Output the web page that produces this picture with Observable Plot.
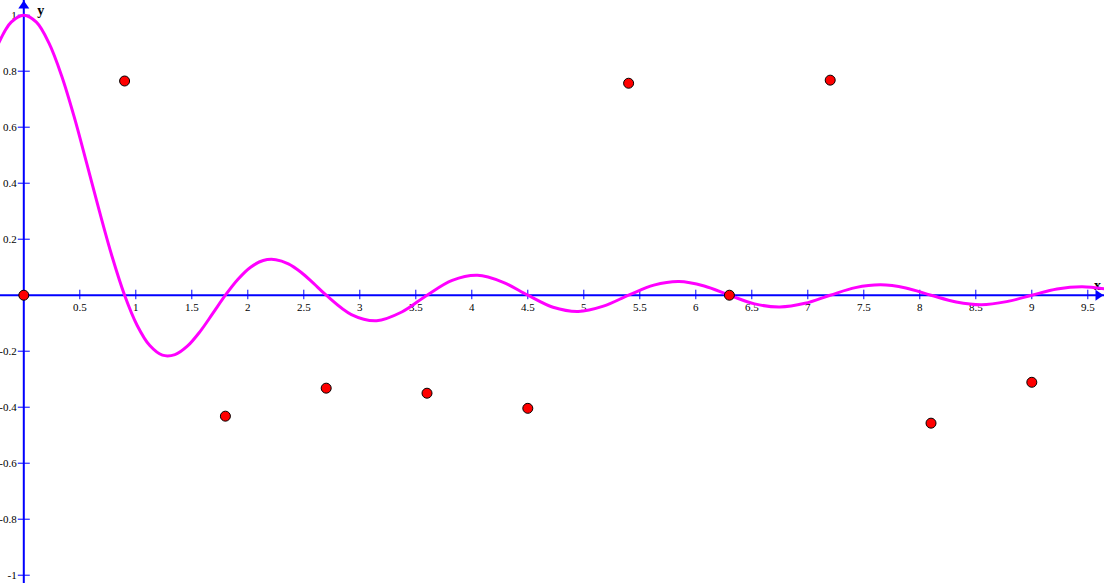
<!DOCTYPE html>
<html>
<head>
<meta charset="utf-8">
<script src="https://cdn.jsdelivr.net/npm/d3@7"></script>
<script src="https://cdn.jsdelivr.net/npm/@observablehq/plot@0.6"></script>
<style>
  html, body { margin: 0; padding: 0; background: #fff; }
  #chart svg { display: block; }
</style>
</head>
<body>
<div id="chart"></div>
<script>
// Curve points
const curveX = [-0.225, -0.1125, 0, 0.1125, 0.225, 0.3375, 0.45, 0.5625, 0.675, 0.7875, 0.9, 1.0125, 1.125, 1.2375, 1.35, 1.4625, 1.575, 1.6875, 1.8, 1.9125, 2.025, 2.1375, 2.25, 2.3625, 2.475, 2.5875, 2.7, 2.925, 3.15, 3.375, 3.6, 3.825, 4.05, 4.275, 4.5, 4.725, 4.95, 5.175, 5.4, 5.625, 5.85, 6.075, 6.3, 6.525, 6.75, 6.975, 7.2, 7.425, 7.65, 7.875, 8.1, 8.325, 8.55, 8.775, 9.0, 9.225, 9.45, 9.675];
const curveY = [0.90, 0.975, 1.00, 0.975, 0.90, 0.784, 0.637, 0.47, 0.30, 0.139, 0, -0.108, -0.18, -0.214, -0.212, -0.181, -0.129, -0.065, 0, 0.057, 0.10, 0.124, 0.127, 0.112, 0.082, 0.042, 0, -0.069, -0.091, -0.06, 0, 0.053, 0.071, 0.047, 0, -0.043, -0.058, -0.039, 0, 0.036, 0.049, 0.033, 0, -0.031, -0.042, -0.029, 0, 0.027, 0.037, 0.026, 0, -0.024, -0.034, -0.023, 0, 0.022, 0.030, 0.021];

// Red sample points
const dotX = [0, 0.9, 1.8, 2.7, 3.6, 4.5, 5.4, 6.3, 7.2, 8.1, 9.0];
const dotY = [0, 0.765, -0.432, -0.332, -0.35, -0.404, 0.757, 0, 0.768, -0.457, -0.311];

// Tick values and labels
const xTicks = [0.5, 1, 1.5, 2, 2.5, 3, 3.5, 4, 4.5, 5, 5.5, 6, 6.5, 7, 7.5, 8, 8.5, 9, 9.5];
const xTickLabels = ["0.5", "1", "1.5", "2", "2.5", "3", "3.5", "4", "4.5", "5", "5.5", "6", "6.5", "7", "7.5", "8", "8.5", "9", "9.5"];
const yTicks = [1, 0.8, 0.6, 0.4, 0.2, -0.2, -0.4, -0.6, -0.8, -1];
const yTickLabels = ["1", "0.8", "0.6", "0.4", "0.2", "-0.2", "-0.4", "-0.6", "-0.8", "-1"];

const xDomain = [-0.208, 9.649];
const yDomain = [-1.0296, 1.0525];

const curve = curveX.map((x, i) => ({x, y: curveY[i]}));
const dots = dotX.map((x, i) => ({x, y: dotY[i]}));
const xt = xTicks.map((v, i) => ({v, label: xTickLabels[i]}));
const yt = yTicks.map((v, i) => ({v, label: yTickLabels[i]}));

const W = 1104, H = 583;
const pxX = (xDomain[1] - xDomain[0]) / W;
const pxY = (yDomain[1] - yDomain[0]) / H;

// arrowhead pointing up with tip at origin
const arrowHead = {
  draw(ctx) {
    ctx.moveTo(0, 0);
    ctx.lineTo(5.5, 8);
    ctx.lineTo(-5.5, 8);
    ctx.closePath();
  }
};

const blue = "#0000ff";
const font = "'Liberation Serif', 'Times New Roman', serif";

const chart = Plot.plot({
  width: W,
  height: H,
  margin: 0,
  x: {domain: xDomain, axis: null},
  y: {domain: yDomain, axis: null},
  style: {background: "#fff"},
  marks: [
    Plot.ruleY([0], {stroke: blue, strokeWidth: 2}),
    Plot.ruleX([0], {stroke: blue, strokeWidth: 2}),
    Plot.ruleX(xt, {x: "v", y1: -4.5 * pxY, y2: 5 * pxY, stroke: blue, strokeWidth: 1}),
    Plot.ruleY(yt, {y: "v", x1: -5.5 * pxX, x2: 6.5 * pxX, stroke: blue, strokeWidth: 1}),
    Plot.text(xt, {x: "v", y: 0, text: "label", dy: 12, fontFamily: font, fontSize: 11, fill: "#000"}),
    Plot.text(yt, {x: 0, y: "v", text: "label", dx: -7, textAnchor: "end", fontFamily: font, fontSize: 11, fill: "#000"}),
    Plot.dot([{x: 0, y: yDomain[1]}], {x: "x", y: "y", symbol: arrowHead, fill: blue, stroke: "none", r: 5}),
    Plot.dot([{x: xDomain[1], y: 0}], {x: "x", y: "y", symbol: arrowHead, rotate: 90, fill: blue, stroke: "none", r: 5, dx: -1}),
    Plot.text(["y"], {x: 0, y: yDomain[1], text: d => d, dx: 17, dy: 10, fontFamily: font, fontSize: 14, fontWeight: "bold", fill: "#000"}),
    Plot.text(["x"], {x: xDomain[1], y: 0, text: d => d, dx: -7, dy: -10, fontFamily: font, fontSize: 14, fontWeight: "bold", fill: "#000"}),
    Plot.line(curve, {x: "x", y: "y", curve: "catmull-rom", stroke: "#ff00ff", strokeWidth: 3}),
    Plot.dot(dots, {x: "x", y: "y", r: 5, fill: "#ff0000", stroke: "#000", strokeWidth: 1})
  ]
});
document.getElementById("chart").appendChild(chart);
</script>
</body>
</html>
